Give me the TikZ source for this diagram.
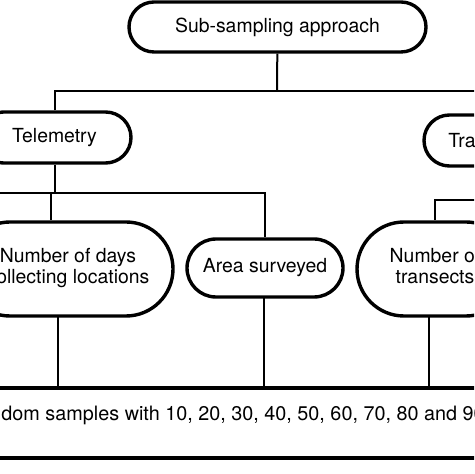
\documentclass[tikz,border=0pt]{standalone}
\usepackage{fontspec}
\setmainfont{TeX Gyre Heros}
\usetikzlibrary{shapes.misc}
\tikzstyle{box}=[rounded rectangle,draw=black,line width=1.7pt,inner sep=2pt,
  align=center,font=\fontsize{9.7}{10.6}\selectfont]
\tikzstyle{link}=[line width=1pt]

\begin{document}
\begin{tikzpicture}[x=0.5pt,y=-0.5pt]
    \useasboundingbox (0,0) rectangle (474,474);
    \clip (0,0) rectangle (474,474);
    \node [style=box,minimum width=152.5pt,minimum height=25pt] (approach) at (277.5,27) {Sub-sampling approach};
    \node [style=box,minimum width=80.5pt,minimum height=25.5pt] (telemetry) at (54.5,137.5) {Telemetry};
    \node [style=box,minimum width=70pt,minimum height=25.5pt] (transect) at (490,140.5) {Transects};
    \node [style=box,minimum width=109pt,minimum height=47pt] (days) at (68,269) {\raisebox{3pt}{\begin{tabular}{@{}c@{}}Number of days\\collecting locations\end{tabular}}};
    \node [style=box,minimum width=82pt,minimum height=29pt] (area) at (265,268) {\raisebox{1pt}{Area surveyed}};
    \node [style=box,minimum width=82pt,minimum height=47pt] (lines) at (435,269) {\raisebox{3pt}{\begin{tabular}{@{}c@{}}Number of\\transects\end{tabular}}};
    \node [draw=black,line width=1.7pt,minimum width=270pt,minimum height=35pt] (samples) at (237,423) {};
    \node [anchor=base west,font=\fontsize{9.9}{10.8}\selectfont,inner sep=0pt] (text) at (-35,420) {Random samples with 10, 20, 30, 40, 50, 60, 70, 80 and 90\%};
    \coordinate (bus) at (277,91);
    \coordinate (telbus) at (-20,193);
    \coordinate (daysin) at (51,193);
    \coordinate (daysout) at (58,316);
    \coordinate (areaout) at (264,297);
    \coordinate (linesout) at (429,316);
    \draw [style=link] (approach) to (bus);
    \draw [style=link] (telemetry.north) |- (bus) -| (transect.north);
    \draw [style=link] (telemetry.south) -- (telemetry.south |- telbus);
    \draw [style=link] (telbus) -| (area.north);
    \draw [style=link] (daysin) to (daysin |- days.north);
    \draw [style=link] (transect.south) |- (435,200) -| (lines.north);
    \draw [style=link] (daysout) to (daysout |- samples.north);
    \draw [style=link] (areaout) to (areaout |- samples.north);
    \draw [style=link] (linesout) to (linesout |- samples.north);
  \end{tikzpicture}
\end{document}
